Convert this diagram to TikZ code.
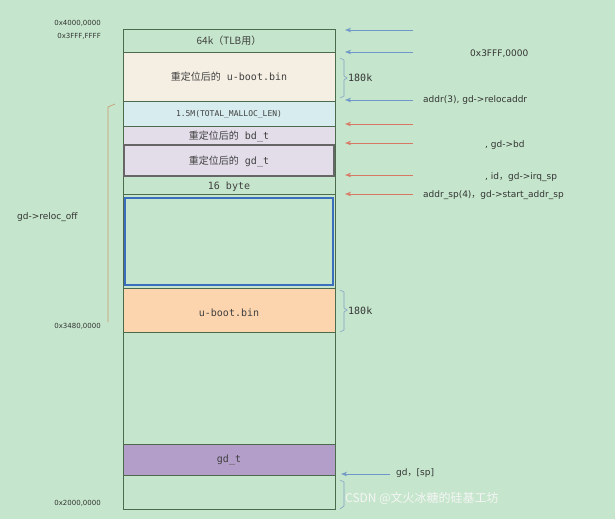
\documentclass[tikz,border=0pt]{standalone}
\usepackage{fontspec}
\usetikzlibrary{arrows.meta}
\setmainfont{DejaVu Sans}
\newfontfamily\cjk{Noto Sans CJK SC}
\newfontfamily\mono{DejaVu Sans Mono}
\begin{document}
\begin{tikzpicture}[x=1pt,y=-1pt,
  cell/.style={draw=black!70!green!40!gray,line width=0.8pt},
  lbl/.style={font=\mono\fontsize{10}{11}\selectfont,text=black!75},
  addr/.style={font=\fontsize{7}{8}\selectfont,text=black!80,anchor=east,inner sep=0pt},
  rt/.style={font=\fontsize{9}{10}\selectfont,text=black!80,anchor=west,inner sep=0pt},
  barr/.style={draw={rgb,255:red,110;green,150;blue,200},line width=0.7pt,-{Stealth[open]}},
  rarr/.style={draw={rgb,255:red,215;green,120;blue,100},line width=0.7pt,-{Stealth[open]}},
  brace/.style={draw={rgb,255:red,130;green,160;blue,200},line width=0.6pt}]
\fill[fill={rgb,255:red,197;green,230;blue,204}] (0,0) rectangle (615,519);
\useasboundingbox (0,0) rectangle (615,519);
\fill[fill={rgb,255:red,245;green,239;blue,227}] (123,52) rectangle (335,101);
\fill[fill={rgb,255:red,214;green,236;blue,238}] (123,101) rectangle (335,126);
\fill[fill={rgb,255:red,227;green,221;blue,234}] (123,126) rectangle (335,176);
\fill[fill={rgb,255:red,252;green,212;blue,174}] (123,288) rectangle (335,332);
\fill[fill={rgb,255:red,178;green,158;blue,200}] (123,444) rectangle (335,475);
\draw[cell] (123,29) rectangle (335,509);
\foreach \y in {52,101,126,194,288,332,444,475} \draw[cell] (123,\y) -- (335,\y);
\draw[draw=gray!80!black,line width=1.2pt] (124,145) rectangle (334,176);
\draw[draw={rgb,255:red,60;green,110;blue,190},line width=1.5pt] (125,198) rectangle (333,285);
\node[lbl,font=\cjk\fontsize{10}{11}\selectfont] (tlb) at (229,41) {64k（TLB用）};
\node[lbl] (rub) at (229,77) {{\cjk 重定位后的} u-boot.bin};
\node[lbl,font=\mono\fontsize{8}{9}\selectfont] (mal) at (229,114) {1.5M(TOTAL\_MALLOC\_LEN)};
\node[lbl] (bd) at (229,136) {{\cjk 重定位后的} bd\_t};
\node[lbl] (gd) at (229,161) {{\cjk 重定位后的} gd\_t};
\node[lbl] (b16) at (229,187) {16 byte};
\node[lbl] (ub) at (229,313) {u-boot.bin};
\node[lbl] (gdt) at (229,460) {gd\_t};
\node[addr] (a1) at (101,23) {0x4000,0000};
\node[addr] (a2) at (101,36) {0x3FFF,FFFF};
\node[addr] (a3) at (101,326) {0x3480,0000};
\node[addr] (a4) at (101,503) {0x2000,0000};
\draw[draw={rgb,255:red,200;green,150;blue,110},line width=0.6pt] (115,104) -- (108,107) -- (108,322);
\node[rt] (ro) at (17,217) {gd->reloc\_off};
\draw[brace] (340,58) -- (344,60) -- (344,76) -- (347,78) -- (344,80) -- (344,96) -- (340,98);
\node[rt,font=\mono\fontsize{10}{11}\selectfont] (k1) at (348,78) {180k};
\draw[brace] (340,290) -- (344,292) -- (344,308) -- (347,310) -- (344,312) -- (344,330) -- (340,332);
\node[rt,font=\mono\fontsize{10}{11}\selectfont] (k2) at (348,311) {180k};
\draw[brace] (340,480) -- (344,482) -- (344,506) -- (340,509);
\coordinate (s1) at (413,30); \coordinate (e1) at (345,30);
\coordinate (s2) at (413,52); \coordinate (e2) at (345,52);
\coordinate (s3) at (413,100); \coordinate (e3) at (345,100);
\coordinate (s4) at (413,124); \coordinate (e4) at (345,124);
\coordinate (s5) at (413,143); \coordinate (e5) at (345,143);
\coordinate (s6) at (413,175); \coordinate (e6) at (345,175);
\coordinate (s7) at (413,194); \coordinate (e7) at (345,194);
\coordinate (s8) at (390,474); \coordinate (e8) at (341,474);
\draw[barr] (s1) -- (e1); \draw[barr] (s2) -- (e2); \draw[barr] (s3) -- (e3);
\draw[rarr] (s4) -- (e4); \draw[rarr] (s5) -- (e5); \draw[rarr] (s6) -- (e6);
\draw[rarr] (s7) -- (e7); \draw[barr] (s8) -- (e8);
\node[rt] (t2) at (470,54) {0x3FFF,0000};
\node[rt] (t3) at (423,100) {addr(3), gd->relocaddr};
\node[rt] (t5) at (485,145) {, gd->bd};
\node[rt] (t6) at (485,177) {, id{\cjk ，}gd->irq\_sp};
\node[rt] (t7) at (423,195) {addr\_sp(4){\cjk ，}gd->start\_addr\_sp};
\node[rt] (t8) at (396,473) {gd{\cjk ，}[sp]};
\node[anchor=west,inner sep=0pt,text=white!92!gray,font=\cjk\fontsize{12}{13}\selectfont] (wm) at (345,498) {CSDN @文火冰糖的硅基工坊};
\end{tikzpicture}
\end{document}
